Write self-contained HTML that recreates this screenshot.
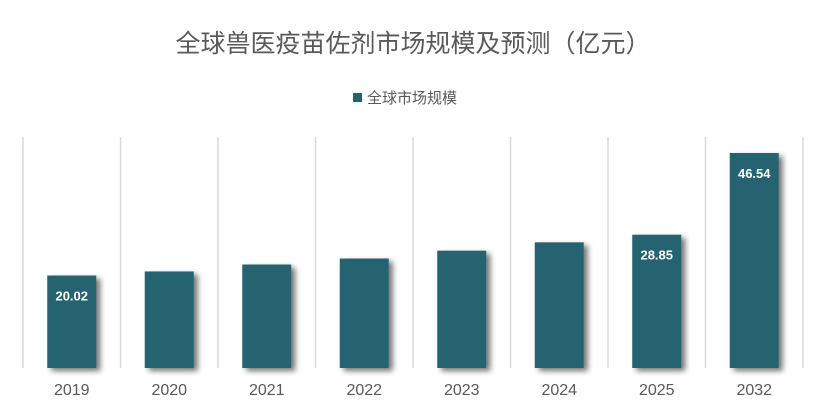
<!DOCTYPE html>
<html><head><meta charset="utf-8"><style>
body{margin:0;background:#fff;}
svg{display:block;font-family:"Liberation Sans","Noto Sans CJK SC",sans-serif;}
</style></head><body>
<svg id="chart" width="827" height="413" viewBox="0 0 827 413">
<defs><filter id="sh" x="-20%" y="-20%" width="150%" height="150%"><feGaussianBlur in="SourceAlpha" stdDeviation="3"/><feOffset dx="4" dy="3"/><feComponentTransfer><feFuncA type="linear" slope="0.55"/></feComponentTransfer><feMerge><feMergeNode/><feMergeNode in="SourceGraphic"/></feMerge></filter></defs>
<text x="413" y="52" text-anchor="middle" font-size="25" fill="#595959">全球兽医疫苗佐剂市场规模及预测（亿元）</text>
<g><rect x="353" y="93" width="9" height="9" fill="#27636f"/><text x="367" y="103" font-size="15" fill="#595959">全球市场规模</text></g>
<g id="grid"></g><g id="bars"></g><g id="labels"></g>
</svg>
<script>
const categories=["2019","2020","2021","2022","2023","2024","2025","2032"];
const values=[20.02,20.9,22.4,23.7,25.4,27.2,28.85,46.54];
const shownLabels=["20.02","","","","","","28.85","46.54"];
const ns="http://www.w3.org/2000/svg";
const x0=23,step=97.5,yBase=368,yTop=137,maxV=50;
const yScale=v=>yBase-v*(yBase-yTop)/maxV;
const xCenter=i=>x0+step*(i+0.5);
const grid=document.getElementById('grid'),bars=document.getElementById('bars'),labels=document.getElementById('labels');
for(let i=0;i<=categories.length;i++){
 const l=document.createElementNS(ns,'line');
 l.setAttribute('x1',x0+step*i);l.setAttribute('x2',x0+step*i);l.setAttribute('y1',yTop);l.setAttribute('y2',yBase);
 l.setAttribute('stroke','#d9d9d9');l.setAttribute('stroke-width','1.5');
 
 
 grid.appendChild(l);
}
categories.forEach((c,i)=>{
 const w=49,y=yScale(values[i]);
 const r=document.createElementNS(ns,'rect');
 r.setAttribute('x',xCenter(i)-w/2);r.setAttribute('y',y);r.setAttribute('width',w);r.setAttribute('height',yBase-y);
 r.setAttribute('fill','#27636f');r.setAttribute('filter','url(#sh)');
 
 
 bars.appendChild(r);
 const t=document.createElementNS(ns,'text');
 t.setAttribute('x',xCenter(i));t.setAttribute('y',395);t.setAttribute('text-anchor','middle');
 t.setAttribute('font-size','16');t.setAttribute('fill','#595959');t.textContent=c;
 
 
 labels.appendChild(t);
 if(shownLabels[i]){
  const v=document.createElementNS(ns,'text');
  v.setAttribute('x',xCenter(i));v.setAttribute('y',y+25);v.setAttribute('text-anchor','middle');
  v.setAttribute('font-size','13');v.setAttribute('font-weight','bold');v.setAttribute('fill','#fff');v.textContent=shownLabels[i];
  
  
  labels.appendChild(v);
 }
});
</script>
</body></html>
